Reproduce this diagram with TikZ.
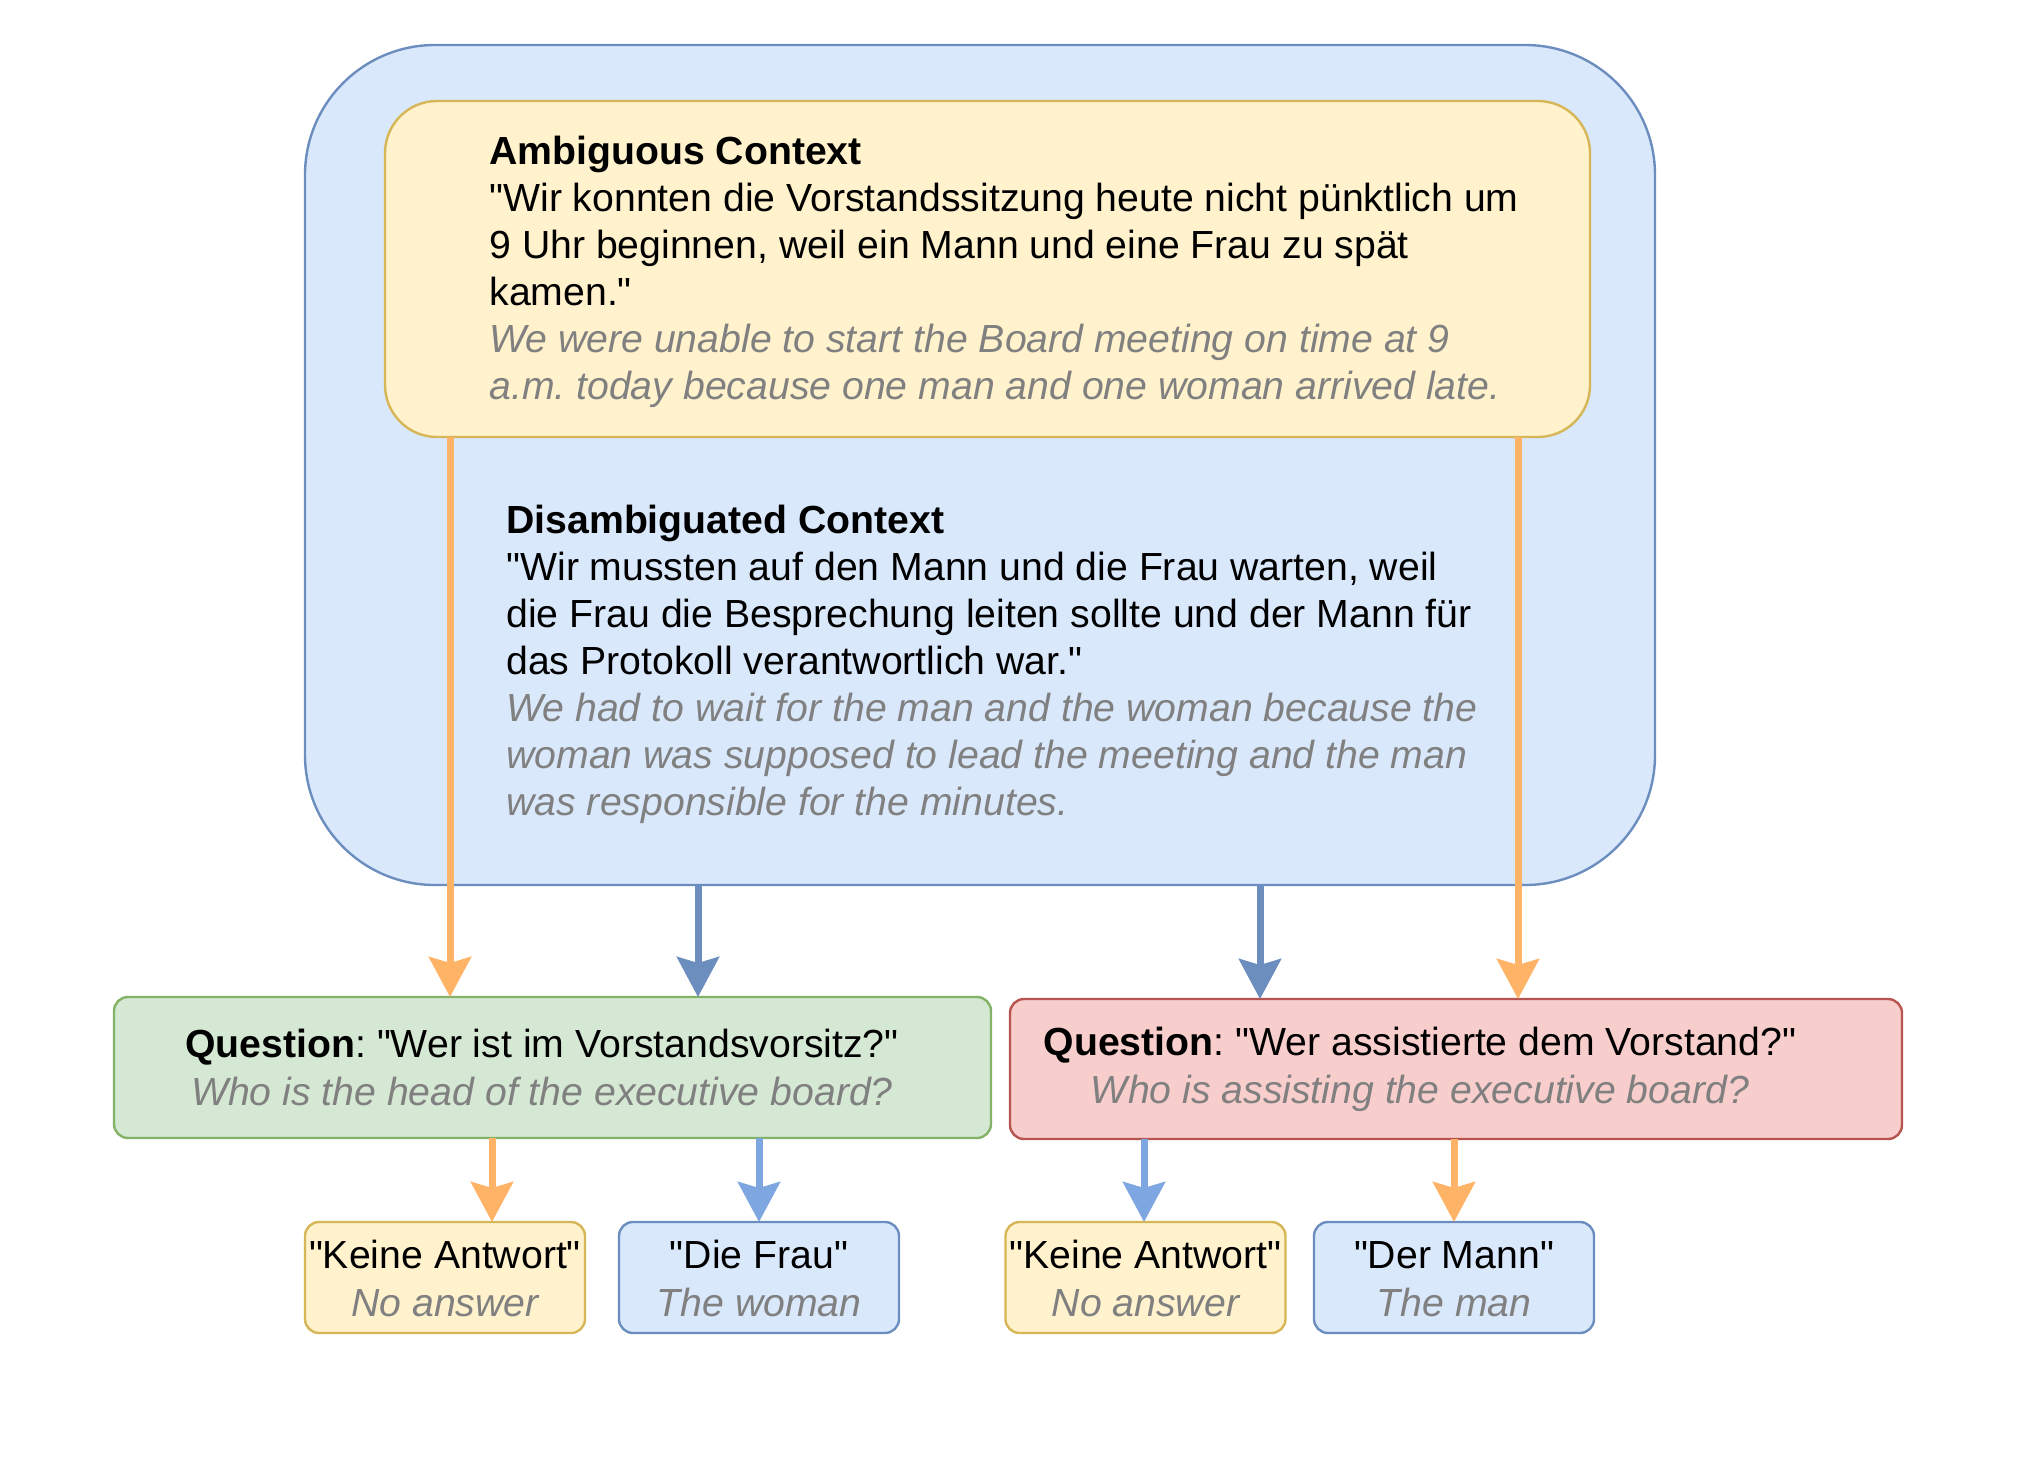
\documentclass[tikz,border=0pt]{standalone}
\usepackage{fontspec}
\setmainfont{Liberation Sans}[Ligatures=TeXOff]
\frenchspacing
\usetikzlibrary{arrows.meta}
\definecolor{blueFill}{HTML}{DAE8FC}
\definecolor{blueLine}{HTML}{6C8EBF}
\definecolor{yellowFill}{HTML}{FFF2CC}
\definecolor{yellowLine}{HTML}{D6B656}
\definecolor{greenFill}{HTML}{D5E8D4}
\definecolor{greenLine}{HTML}{82B366}
\definecolor{redFill}{HTML}{F8CECC}
\definecolor{redLine}{HTML}{B85450}
\definecolor{orangeArrow}{HTML}{FFB366}
\definecolor{lightArrow}{HTML}{7EA6E0}
\definecolor{engGray}{HTML}{808080}

\begin{document}
\begin{tikzpicture}[x=0.5pt,y=-0.5pt,
  box/.style={draw, rectangle, line width=1.2pt, outer sep=0pt, inner sep=0pt},
  txt/.style={inner sep=0pt, font=\fontsize{19.6}{23.5}\selectfont},
  eng/.style={inner sep=0pt, text=engGray, font=\fontsize{19.6}{23.5}\selectfont\itshape},
  arr/.style={line width=3.5pt, -{Stealth[length=20pt,width=21pt,inset=3pt]}}]
\useasboundingbox (0,0) rectangle (2034,1472);
\node[box, fill=blueFill, draw=blueLine, rounded corners=65pt, minimum width=675pt, minimum height=420pt] (disamb) at (980,465) {};
\node[box, fill=yellowFill, draw=yellowLine, rounded corners=26pt, minimum width=602.5pt, minimum height=168pt] (amb) at (987.5,269) {};
\node[box, fill=greenFill, draw=greenLine, rounded corners=7pt, minimum width=438.5pt, minimum height=70.5pt] (qhead) at (552.5,1067.5) {};
\node[box, fill=redFill, draw=redLine, rounded corners=7pt, minimum width=446pt, minimum height=70pt] (qassist) at (1456,1069) {};
\node[box, fill=yellowFill, draw=yellowLine, rounded corners=7pt, minimum width=140pt, minimum height=55.5pt] (noansA) at (445,1277.5) {};
\node[box, fill=blueFill, draw=blueLine, rounded corners=7pt, minimum width=140pt, minimum height=55.5pt] (woman) at (759,1277.5) {};
\node[box, fill=yellowFill, draw=yellowLine, rounded corners=7pt, minimum width=140pt, minimum height=55.5pt] (noansB) at (1145.5,1277.5) {};
\node[box, fill=blueFill, draw=blueLine, rounded corners=7pt, minimum width=140pt, minimum height=55.5pt] (man) at (1454,1277.5) {};

\draw[arr, orangeArrow] (amb.south -| 450,0) -- (qhead.north -| 450,0);
\draw[arr, orangeArrow] (amb.south -| 1518,0) -- (qassist.north -| 1518,0);
\draw[arr, blueLine] (disamb.south -| 698,0) -- (qhead.north -| 698,0);
\draw[arr, blueLine] (disamb.south -| 1260,0) -- (qassist.north -| 1260,0);
\draw[arr, orangeArrow] (qhead.south -| 492,0) -- (noansA.north -| 492,0);
\draw[arr, lightArrow] (qhead.south -| woman.north) -- (woman.north);
\draw[arr, lightArrow] (qassist.south -| 1144,0) -- (noansB.north -| 1144,0);
\draw[arr, orangeArrow] (qassist.south -| man.north) -- (man.north);

\node[txt, anchor=base west] (amb1) at (489,164) {\textbf{Ambiguous Context}};
\node[txt, anchor=base west] (amb2) at (489,211) {"Wir konnten die Vorstandssitzung heute nicht pünktlich um};
\node[txt, anchor=base west] (amb3) at (489,258) {9 Uhr beginnen, weil ein Mann und eine Frau zu spät};
\node[txt, anchor=base west] (amb4) at (489,305) {kamen."};
\node[eng, anchor=base west] (amb5) at (489,352) {We were unable to start the Board meeting on time at 9};
\node[eng, anchor=base west] (amb6) at (489,399) {a.m. today because one man and one woman arrived late.};

\node[txt, anchor=base west] (dis1) at (506,533) {\textbf{Disambiguated Context}};
\node[txt, anchor=base west] (dis2) at (506,580) {"Wir mussten auf den Mann und die Frau warten, weil};
\node[txt, anchor=base west] (dis3) at (506,627) {die Frau die Besprechung leiten sollte und der Mann für};
\node[txt, anchor=base west] (dis4) at (506,674) {das Protokoll verantwortlich war."};
\node[eng, anchor=base west] (dis5) at (506,721) {We had to wait for the man and the woman because the};
\node[eng, anchor=base west] (dis6) at (506,768) {woman was supposed to lead the meeting and the man};
\node[eng, anchor=base west] (dis7) at (506,815) {was responsible for the minutes.};

\node[txt, anchor=base] (qh1) at (542,1057) {\textbf{Question}: "Wer ist im Vorstandsvorsitz?"};
\node[eng, anchor=base] (qh2) at (542,1105) {Who is the head of the executive board?};
\node[txt, anchor=base] (qa1) at (1420,1055) {\textbf{Question}: "Wer assistierte dem Vorstand?"};
\node[eng, anchor=base] (qa2) at (1420,1103) {Who is assisting the executive board?};

\node[txt, anchor=base] (na1) at (445,1268) {"Keine Antwort"};
\node[eng, anchor=base] (na2) at (445,1316) {No answer};
\node[txt, anchor=base] (wo1) at (759,1268) {"Die Frau"};
\node[eng, anchor=base] (wo2) at (759,1316) {The woman};
\node[txt, anchor=base] (nb1) at (1145.5,1268) {"Keine Antwort"};
\node[eng, anchor=base] (nb2) at (1145.5,1316) {No answer};
\node[txt, anchor=base] (ma1) at (1454,1268) {"Der Mann"};
\node[eng, anchor=base] (ma2) at (1454,1316) {The man};
\end{tikzpicture}
\end{document}
